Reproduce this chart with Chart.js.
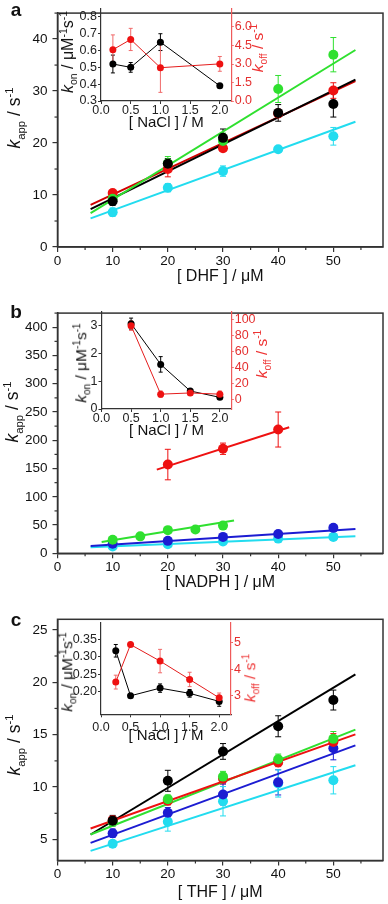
<!DOCTYPE html>
<html><head><meta charset="utf-8">
<script src="https://cdn.jsdelivr.net/npm/chart.js@4.4.1/dist/chart.umd.min.js"></script>
<style>
html,body{margin:0;padding:0;background:#fff;}
#wrap{position:relative;width:388px;height:904px;overflow:hidden;font-family:'Liberation Sans',Arial,sans-serif;color:#111;}
canvas{position:absolute;}
.t{position:absolute;white-space:nowrap;transform:translate(-50%,-50%) rotate(-90deg);line-height:1;}
.t sub,.t sup{font-size:65%;line-height:0;}
.lbl{position:absolute;font-weight:bold;font-size:19px;transform:translate(-50%,-50%);line-height:1;}
</style></head><body>
<div id="wrap">
<canvas id="ma" width="388" height="295" style="left:0;top:0"></canvas>
<canvas id="ia" width="215" height="135" style="left:60px;top:0"></canvas>
<canvas id="mb" width="388" height="300" style="left:0;top:300px"></canvas>
<canvas id="ib" width="215" height="140" style="left:60px;top:300px"></canvas>
<canvas id="mc" width="388" height="304" style="left:0;top:600px"></canvas>
<canvas id="ic" width="215" height="140" style="left:60px;top:614px"></canvas>

<div class="lbl" style="left:16px;top:9px">a</div>
<div class="lbl" style="left:16px;top:311px">b</div>
<div class="lbl" style="left:16px;top:619px">c</div>

<div class="t" style="left:15px;top:118px;font-size:17.5px"><i>k</i><sub>app</sub> / s<sup>-1</sup></div>
<div class="t" style="left:13px;top:412px;font-size:17.5px"><i>k</i><sub>app</sub> / s<sup>-1</sup></div>
<div class="t" style="left:15px;top:745px;font-size:17.5px"><i>k</i><sub>app</sub> / s<sup>-1</sup></div>

<div class="t" style="left:68px;top:52px;font-size:16px"><i>k</i><sub>on</sub> / μM<sup>-1</sup>s<sup>-1</sup></div>
<div class="t" style="left:258px;top:48px;font-size:15.5px;color:#e33"><i>k</i><sub>off</sub> / s<sup>-1</sup></div>
<div class="t" style="left:81px;top:363px;font-size:15.5px"><i>k</i><sub>on</sub> / μM<sup>-1</sup>s<sup>-1</sup></div>
<div class="t" style="left:262px;top:354px;font-size:15.5px;color:#e33"><i>k</i><sub>off</sub> / s<sup>-1</sup></div>
<div class="t" style="left:67px;top:672px;font-size:15.5px"><i>k</i><sub>on</sub> / μM<sup>-1</sup>s<sup>-1</sup></div>
<div class="t" style="left:250px;top:678px;font-size:15.5px;color:#e33"><i>k</i><sub>off</sub> / s<sup>-1</sup></div>
</div>
<script>
// ---------------- DATA ----------------
const concX = [10, 20, 30, 40, 50];
const fitX = [6, 54];
const mainXTicks = ['0', '10', '20', '30', '40', '50'];

// Panel a  (DHF)
const aBlack = [8.8, 16.0, 21.0, 25.8, 27.5];
const aBlackErr = [0.8, 1.0, 1.7, 1.6, 2.5];
const aRed = [10.4, 15.0, 19.0, 25.7, 30.1];
const aRedErr = [0.5, 1.5, 0.6, 0.8, 1.5];
const aGreen = [9.3, 16.1, 20.4, 30.4, 37.0];
const aGreenErr = [0.8, 1.3, 1.5, 2.6, 3.3];
const aCyan = [6.7, 11.4, 14.6, 18.8, 21.3];
const aCyanErr = [0.8, 0.8, 1.0, 0.5, 1.7];
const aBlackFit = [7.3, 32.2];
const aRedFit = [8.1, 31.9];
const aGreenFit = [6.5, 37.9];
const aCyanFit = [5.5, 24.1];
const aYTicks = ['0', '10', '20', '30', '40'];

// Inset a
const inAX = [0.2, 0.5, 1.0, 2.0];
const inAKon = [0.52, 0.50, 0.65, 0.39];
const inAKonErr = [0.053, 0.029, 0.05, 0.01];
const inAKoff = [4.16, 4.99, 2.7, 3.01];
const inAKoffErr = [1.2, 0.9, 2.0, 0.6];
const inXTicks = ['0.0', '0.5', '1.0', '1.5', '2.0'];
const inAKonTicks = ['0.3', '0.4', '0.5', '0.6', '0.7', '0.8'];
const inAKoffTicks = ['0.0', '1.5', '3.0', '4.5', '6.0'];

// Panel b  (NADPH)
const bRedX = [20, 30, 40];
const bRed = [157, 185, 219];
const bRedErr = [27, 10, 31];
const bGreenX = [10, 15, 20, 25, 30];
const bGreen = [24, 30, 41, 42, 49];
const bGreenErr = [2, 2, 2, 2, 3];
const bBlue = [17, 22, 29, 34, 45];
const bBlueErr = [2, 2, 2, 2, 2];
const bCyan = [12, 16, 21, 26, 29];
const bCyanErr = [1, 1, 1, 1, 2];
const bRedFitX = [18, 42];
const bRedFit = [148, 223];
const bGreenFitX = [8, 32];
const bGreenFit = [20, 58];
const bBlueFit = [13, 43];
const bCyanFit = [10.5, 30];
const bYTicks = ['0', '50', '100', '150', '200', '250', '300', '350', '400'];

// Inset b
const inBX = [0.5, 1.0, 1.5, 2.0];
const inBKon = [3.08, 1.61, 0.65, 0.42];
const inBKonErr = [0.2, 0.28, 0.05, 0.07];
const inBKoff = [92, 6.5, 8, 6.5];
const inBKoffErr = [6, 4, 3, 4];
const inBKonTicks = ['0', '1', '2', '3'];
const inBKoffTicks = ['0', '20', '40', '60', '80', '100'];

// Panel c  (THF)
const cBlack = [6.8, 10.6, 13.4, 15.8, 18.3];
const cBlackErr = [0.5, 1.0, 0.75, 1.0, 0.95];
const cRed = [6.85, 8.7, 10.8, 12.35, 14.3];
const cRedErr = [0.3, 0.4, 0.5, 0.4, 0.8];
const cGreen = [6.7, 8.85, 11.0, 12.65, 14.6];
const cGreenErr = [0.4, 0.4, 0.5, 0.5, 0.7];
const cBlue = [5.6, 7.55, 9.3, 10.45, 13.7];
const cBlueErr = [0.4, 0.5, 1.0, 1.2, 1.1];
const cCyan = [4.6, 6.7, 8.65, 10.35, 10.65];
const cCyanErr = [0.3, 0.9, 1.4, 1.3, 1.3];
const cBlackFit = [5.48, 20.75];
const cRedFit = [6.05, 15.03];
const cGreenFit = [5.48, 15.48];
const cBlueFit = [4.68, 13.98];
const cCyanFit = [3.92, 12.08];
const cYTicks = ['5', '10', '15', '20', '25'];

// Inset c
const inCX = [0.25, 0.5, 1.0, 1.5, 2.0];
const inCKon = [0.317, 0.188, 0.21, 0.195, 0.172];
const inCKonErr = [0.018, 0.004, 0.012, 0.011, 0.014];
const inCKoff = [3.51, 4.92, 4.3, 3.61, 2.92];
const inCKoffErr = [0.26, 0.05, 0.44, 0.27, 0.18];
const inCKonTicks = ['0.20', '0.25', '0.30', '0.35'];
const inCKoffTicks = ['3', '4', '5'];

// ---------------- STYLE ----------------
const C = {black:'#000000', red:'#ee1111', redLine:'#d00000', green:'#2fe02f', cyan:'#22dcef', blue:'#1c1cd2'};
const AX = '#333333';
const INRED = '#ef5a5a';
Chart.defaults.font.family = "'Liberation Sans', Arial, sans-serif";
Chart.defaults.color = '#111';

const pts = (xs, ys) => xs.map((x, i) => ({x: x, y: ys[i]}));

const errorBars = {
  id: 'errorBars',
  beforeDatasetsDraw(chart) {
    const ctx = chart.ctx;
    chart.data.datasets.forEach((ds, i) => {
      if (!ds.errors) return;
      const meta = chart.getDatasetMeta(i);
      const xs = chart.scales[meta.xAxisID], ys = chart.scales[meta.yAxisID];
      ctx.save();
      ctx.strokeStyle = ds.errColor || ds.borderColor;
      ctx.lineWidth = 1;
      const c = ds.capW || 3;
      ds.data.forEach((p, j) => {
        const e = ds.errors[j];
        if (!e) return;
        const px = xs.getPixelForValue(p.x);
        const y0 = ys.getPixelForValue(p.y - e), y1 = ys.getPixelForValue(p.y + e);
        ctx.beginPath();
        ctx.moveTo(px, y0); ctx.lineTo(px, y1);
        ctx.moveTo(px - c, y0); ctx.lineTo(px + c, y0);
        ctx.moveTo(px - c, y1); ctx.lineTo(px + c, y1);
        ctx.stroke();
      });
      ctx.restore();
    });
  }
};

const frame = {
  id: 'frame',
  afterDraw(chart, args, opts) {
    if (!opts || !opts.on) return;
    const ctx = chart.ctx;
    const {left, top, right, bottom} = chart.chartArea;
    ctx.save();
    ctx.strokeStyle = AX; ctx.lineWidth = 1.5;
    ctx.strokeRect(left, top, right - left, bottom - top);
    // minor ticks at midpoints between labelled ticks
    ctx.lineWidth = 1.2;
    const drawMinor = (scale, horiz) => {
      const vals = scale.ticks.map(t => t.value);
      const mids = [];
      for (let i = 0; i < vals.length - 1; i++) mids.push((vals[i] + vals[i + 1]) / 2);
      const step = vals[1] - vals[0];
      let v = vals[vals.length - 1] + step / 2;
      while (v <= scale.max) { mids.push(v); v += step; }
      v = vals[0] - step / 2;
      while (v >= scale.min) { mids.push(v); v -= step; }
      mids.forEach(m => {
        const p = scale.getPixelForValue(m);
        ctx.beginPath();
        if (horiz) { ctx.moveTo(p, bottom); ctx.lineTo(p, bottom + 3); }
        else { ctx.moveTo(left, p); ctx.lineTo(left - 3, p); }
        ctx.stroke();
      });
    };
    drawMinor(chart.scales.x, true);
    drawMinor(chart.scales.y, false);
    ctx.restore();
  }
};

function mainOptions(o) {
  return {
    responsive: false, animation: false,
    layout: {padding: {top: o.padTop, right: 1, left: 0, bottom: 0}},
    plugins: {legend: {display: false}, tooltip: {enabled: false}, frame: {on: true}},
    scales: {
      x: {
        type: 'linear', min: 0, max: 59,
        afterBuildTicks: s => { s.ticks = mainXTicks.map(l => ({value: parseFloat(l)})); },
        afterFit: s => { s.height = o.xH; },
        grid: {drawOnChartArea: false, drawTicks: true, tickLength: 5, color: AX, lineWidth: 1.2},
        border: {display: true, color: AX, width: 1.5},
        ticks: {font: {size: 13.5}, color: '#111', padding: 1, maxRotation: 0, autoSkip: false,
                callback: (v) => { const i = mainXTicks.findIndex(l => parseFloat(l) === v); return i >= 0 ? mainXTicks[i] : ''; }},
        title: {display: true, text: o.xTitle, font: {size: 16}, color: '#111', padding: {top: 0, bottom: o.titlePad}}
      },
      y: {
        type: 'linear', min: o.yMin, max: o.yMax,
        afterBuildTicks: s => { s.ticks = o.yTicks.map(l => ({value: parseFloat(l)})); },
        afterFit: s => { s.width = 57.5; },
        grid: {drawOnChartArea: false, drawTicks: true, tickLength: 5, color: AX, lineWidth: 1.2},
        border: {display: true, color: AX, width: 1.5},
        ticks: {font: {size: 13.5}, color: '#111', padding: 5, autoSkip: false,
                callback: (v) => { const i = o.yTicks.findIndex(l => parseFloat(l) === v); return i >= 0 ? o.yTicks[i] : ''; }}
      }
    }
  };
}

function series(xs, ys, errs, color, r) {
  return {data: pts(xs, ys), errors: errs, backgroundColor: color, borderColor: color,
          pointRadius: r || 5, pointBorderWidth: 0, showLine: false, order: 0, capW: 3};
}
function fitLine(xs, ys, color) {
  return {data: pts(xs, ys), borderColor: color, backgroundColor: color, borderWidth: 2,
          pointRadius: 0, showLine: true, order: 5};
}

function makeMain(id, datasets, o) {
  new Chart(document.getElementById(id), {
    type: 'scatter',
    data: {datasets: datasets},
    options: mainOptions(o),
    plugins: [errorBars, frame]
  });
}

function makeInset(id, o) {
  const lab = (arr) => (v) => { const i = arr.findIndex(l => Math.abs(parseFloat(l) - v) < 1e-9); return i >= 0 ? arr[i] : ''; };
  new Chart(document.getElementById(id), {
    type: 'scatter',
    data: {datasets: [
      {data: pts(o.x, o.kon), errors: o.konErr, yAxisID: 'y', borderColor: '#000', backgroundColor: '#000',
       pointRadius: 3.5, pointBorderWidth: 0, showLine: true, borderWidth: 1, capW: 2, order: 1},
      {data: pts(o.x, o.koff), errors: o.koffErr, yAxisID: 'y1', borderColor: '#e41c1c', backgroundColor: '#ee1111',
       errColor: '#f06a6a', pointRadius: 3.5, pointBorderWidth: 0, showLine: true, borderWidth: 1, capW: 2, order: 0}
    ]},
    options: {
      responsive: false, animation: false,
      layout: {padding: {top: o.padTop, left: 0, right: 0, bottom: 0}},
      plugins: {legend: {display: false}, tooltip: {enabled: false}},
      scales: {
        x: {
          type: 'linear', min: 0, max: 2.2,
          afterBuildTicks: s => { s.ticks = inXTicks.map(l => ({value: parseFloat(l)})); },
          afterFit: s => { s.height = o.xH; },
          grid: {drawOnChartArea: false, tickLength: 3, color: AX, lineWidth: 1},
          border: {display: true, color: AX, width: 1.2},
          ticks: {font: {size: 12.5}, color: '#222', padding: o.xTickPad, maxRotation: 0, autoSkip: false, callback: lab(inXTicks)},
          title: {display: true, text: '[ NaCl ] / M', font: {size: 15}, color: '#111', padding: {top: 0, bottom: o.titlePad}}
        },
        y: {
          type: 'linear', position: 'left', min: o.konMin, max: o.konMax,
          afterBuildTicks: s => { s.ticks = o.konTicks.map(l => ({value: parseFloat(l)})); },
          afterFit: s => { s.width = o.leftW; },
          grid: {drawOnChartArea: false, tickLength: 3, color: AX, lineWidth: 1},
          border: {display: true, color: AX, width: 1.2},
          ticks: {font: {size: 12.5}, color: '#222', padding: 1, autoSkip: false, callback: lab(o.konTicks)}
        },
        y1: {
          type: 'linear', position: 'right', min: o.koffMin, max: o.koffMax,
          afterBuildTicks: s => { s.ticks = o.koffTicks.map(l => ({value: parseFloat(l)})); },
          afterFit: s => { s.width = o.rightW; },
          grid: {drawOnChartArea: false, tickLength: 2, color: INRED, lineWidth: 1},
          border: {display: true, color: INRED, width: 1.2},
          ticks: {font: {size: 12.5}, color: '#e43030', padding: 1, autoSkip: false, callback: lab(o.koffTicks)}
        }
      }
    },
    plugins: [errorBars]
  });
}

// ---------- Panel a ----------
makeMain('ma', [
  series(concX, aBlack, aBlackErr, C.black),
  series(concX, aGreen, aGreenErr, C.green),
  series(concX, aRed, aRedErr, C.red),
  series(concX, aCyan, aCyanErr, C.cyan),
  fitLine(fitX, aCyanFit, C.cyan),
  fitLine(fitX, aGreenFit, C.green),
  fitLine(fitX, aBlackFit, C.black),
  fitLine(fitX, aRedFit, C.redLine)
], {padTop: 5, xH: 48, xTitle: '[ DHF ] / μM', titlePad: 8.5, yMin: 0, yMax: 45, yTicks: aYTicks});

makeInset('ia', {x: inAX, kon: inAKon, konErr: inAKonErr, koff: inAKoff, koffErr: inAKoffErr,
  konMin: 0.3, konMax: 0.85, konTicks: inAKonTicks, koffMin: 0, koffMax: 7.5, koffTicks: inAKoffTicks,
  padTop: 5, xH: 34, leftW: 41, rightW: 43.3, titlePad: 3, xTickPad: -1});

// ---------- Panel b ----------
makeMain('mb', [
  series(bRedX, bRed, bRedErr, C.red),
  series(bGreenX, bGreen, bGreenErr, C.green),
  series(concX, bBlue, bBlueErr, C.blue),
  series(concX, bCyan, bCyanErr, C.cyan),
  fitLine(bRedFitX, bRedFit, C.red),
  fitLine(bGreenFitX, bGreenFit, C.green),
  fitLine(fitX, bBlueFit, C.blue),
  fitLine(fitX, bCyanFit, C.cyan)
], {padTop: 12, xH: 46.7, xTitle: '[ NADPH ] / μM', titlePad: 7.5, yMin: 0, yMax: 425, yTicks: bYTicks});

makeInset('ib', {x: inBX, kon: inBKon, konErr: inBKonErr, koff: inBKoff, koffErr: inBKoffErr,
  konMin: 0, konMax: 3.5, konTicks: inBKonTicks, koffMin: -12, koffMax: 109, koffTicks: inBKoffTicks,
  padTop: 12, xH: 31, leftW: 41.5, rightW: 43.3, titlePad: 0, xTickPad: -1});

// ---------- Panel c ----------
makeMain('mc', [
  series(concX, cBlack, cBlackErr, C.black),
  series(concX, cGreen, cGreenErr, C.green),
  series(concX, cRed, cRedErr, C.red),
  series(concX, cBlue, cBlueErr, C.blue),
  series(concX, cCyan, cCyanErr, C.cyan),
  fitLine(fitX, cCyanFit, C.cyan),
  fitLine(fitX, cBlueFit, C.blue),
  fitLine(fitX, cRedFit, C.red),
  fitLine(fitX, cGreenFit, C.green),
  fitLine(fitX, cBlackFit, C.black)
], {padTop: 19.3, xH: 43.5, xTitle: '[ THF ] / μM', titlePad: 1.5, yMin: 3, yMax: 26, yTicks: cYTicks});

makeInset('ic', {x: inCX, kon: inCKon, konErr: inCKonErr, koff: inCKoff, koffErr: inCKoffErr,
  konMin: 0.135, konMax: 0.398, konTicks: inCKonTicks, koffMin: 2.3, koffMax: 5.75, koffTicks: inCKoffTicks,
  padTop: 5.3, xH: 39.7, leftW: 41, rightW: 44, titlePad: 9.5, xTickPad: 3});
</script>
</body></html>
